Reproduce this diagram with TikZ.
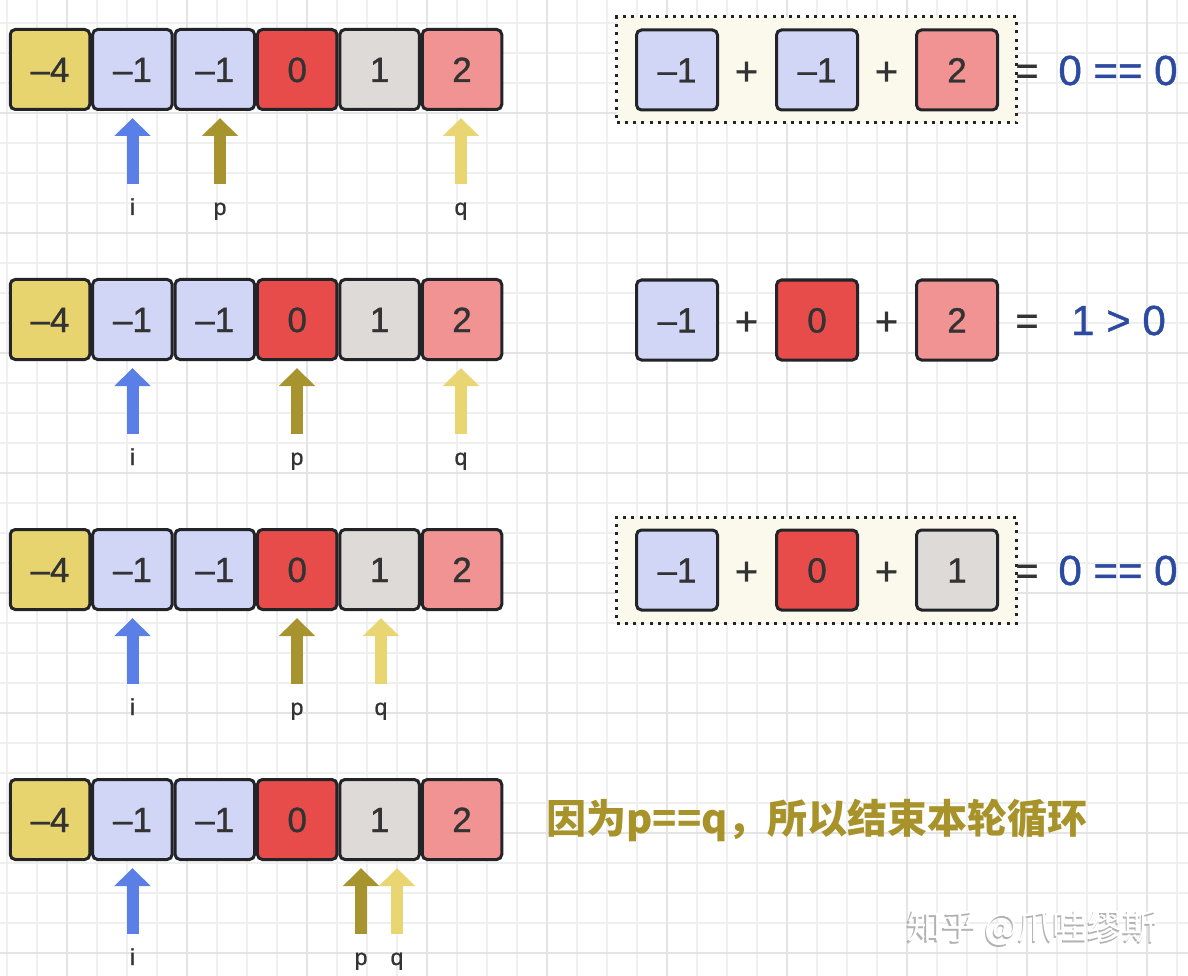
\documentclass[tikz,border=0pt]{standalone}
\usepackage{fontspec}
\setmainfont{Liberation Sans}[FakeBold=1]
\newfontfamily\cjk{Noto Sans CJK SC}
\usetikzlibrary{arrows.meta}
\definecolor{edge}{HTML}{222428}
\definecolor{ink}{HTML}{333333}
\definecolor{cellY}{HTML}{E8D46E}
\definecolor{cellL}{HTML}{D1D6F6}
\definecolor{cellR}{HTML}{E74C4A}
\definecolor{cellG}{HTML}{DEDAD7}
\definecolor{cellP}{HTML}{F19392}
\definecolor{ptrI}{HTML}{5A7FE6}
\definecolor{ptrP}{HTML}{A8942E}
\definecolor{ptrQ}{HTML}{E9D672}
\definecolor{res}{HTML}{2B4AA0}
\definecolor{note}{HTML}{A8922A}
\definecolor{cream}{HTML}{FBF8EC}
\definecolor{gridmin}{HTML}{EFEFEF}
\definecolor{gridmaj}{HTML}{E4E4E4}
\tikzset{
  cell/.style={draw=edge,line width=3pt,rounded corners=5pt,minimum width=79.5pt,
    minimum height=80pt,inner sep=0pt,text=ink,font=\fontsize{35}{35}\selectfont,
    text height=25pt,text depth=0pt},
  eqbox/.style={cell,minimum width=81pt},
  frame/.style={draw=edge,line width=3pt,dash pattern=on 3pt off 5.3pt,fill=cream,
    minimum width=400pt,minimum height=106pt,inner sep=0pt},
  lbl/.style={text=ink,font=\fontsize{23}{23}\selectfont,text height=17pt,text depth=5pt,inner sep=0pt},
  ptr/.style={line width=12pt,-{Triangle[width=35pt,length=18pt]}},
  op/.style={text=ink,font=\fontsize{40}{40}\selectfont,inner sep=0pt,anchor=base},
  result/.style={text=res,font=\fontsize{42}{42}\selectfont,inner sep=0pt,anchor=base}
}
\begin{document}
\begin{tikzpicture}[x=1pt,y=-1pt]
  \useasboundingbox[fill=white] (0,0) rectangle (1188,976);
  % grid paper
  \foreach \x in {7,37,...,1187} \draw[gridmin,line width=1.2pt] (\x,0) -- (\x,976);
  \foreach \y in {23,53,...,976} \draw[gridmin,line width=1.2pt] (0,\y) -- (1188,\y);
  \foreach \x in {67,187,...,1187} \draw[gridmaj,line width=1.8pt] (\x,0) -- (\x,976);
  \foreach \y in {113,233,...,976} \draw[gridmaj,line width=1.8pt] (0,\y) -- (1188,\y);

  % the array, four times
  \foreach \r in {0,...,3}{
    \foreach \v/\c [count=\k from 0] in {–4/cellY,–1/cellL,–1/cellL,0/cellR,1/cellG,2/cellP}
      \node[cell,fill=\c] (a\r-\k) at (50+82.4*\k,69.5+250*\r) {\v};
  }

  % pointers i, p, q
  \foreach \r/\i/\p/\q in {0/132.5/220/461,1/132.5/297/461,2/132.5/297/381,3/132.5/361/397}{
    \node[lbl] (i\r) at (\i,209+250*\r) {i};
    \node[lbl] (p\r) at (\p,209+250*\r) {p};
    \node[lbl] (q\r) at (\q,209+250*\r) {q};
    \draw[ptr,ptrI] ([yshift=25pt]i\r.center) -- ([yshift=91pt]i\r.center);
    \draw[ptr,ptrP] ([yshift=25pt]p\r.center) -- ([yshift=91pt]p\r.center);
    \draw[ptr,ptrQ] ([yshift=25pt]q\r.center) -- ([yshift=91pt]q\r.center);
  }

  % sums
  \node[frame] (f0) at (816.5,70) {};
  \node[frame] (f2) at (816.5,570) {};
  \foreach \r in {0,1,2}{
    \node[op] (s\r-0) at (746.5,85+250*\r) {+};
    \node[op] (s\r-1) at (886.5,85+250*\r) {+};
    \node[op] (eq\r) at (1027,84.5+250*\r) {=};
  }
  \node[eqbox,fill=cellL] (e0-0) at (677,70) {–1};
  \node[eqbox,fill=cellL] (e0-1) at (817,70) {–1};
  \node[eqbox,fill=cellP] (e0-2) at (957,70) {2};
  \node[result] (r0) at (1118,85) {0 == 0};

  \node[eqbox,fill=cellL] (e1-0) at (677,320) {–1};
  \node[eqbox,fill=cellR] (e1-1) at (817,320) {0};
  \node[eqbox,fill=cellP] (e1-2) at (957,320) {2};
  \node[result] (r1) at (1118.5,335) {1 > 0};

  \node[eqbox,fill=cellL] (e2-0) at (677,570) {–1};
  \node[eqbox,fill=cellR] (e2-1) at (817,570) {0};
  \node[eqbox,fill=cellG] (e2-2) at (957,570) {1};
  \node[result] (r2) at (1118,585) {0 == 0};

  % last round
  \node[text=note,font=\cjk\bfseries\fontsize{40}{40}\selectfont,inner sep=0pt] (msg) at (817,820) {因为p==q，所以结束本轮循环};

  % watermark
  \node[text=black!30,font=\cjk\fontsize{35}{35}\selectfont,inner sep=0pt] (wm0) at (1031,929.5) {知乎 @爪哇缪斯};
  \node[text=white,font=\cjk\fontsize{35}{35}\selectfont,inner sep=0pt] (wm) at (1032.5,928) {知乎 @爪哇缪斯};
\end{tikzpicture}
\end{document}
